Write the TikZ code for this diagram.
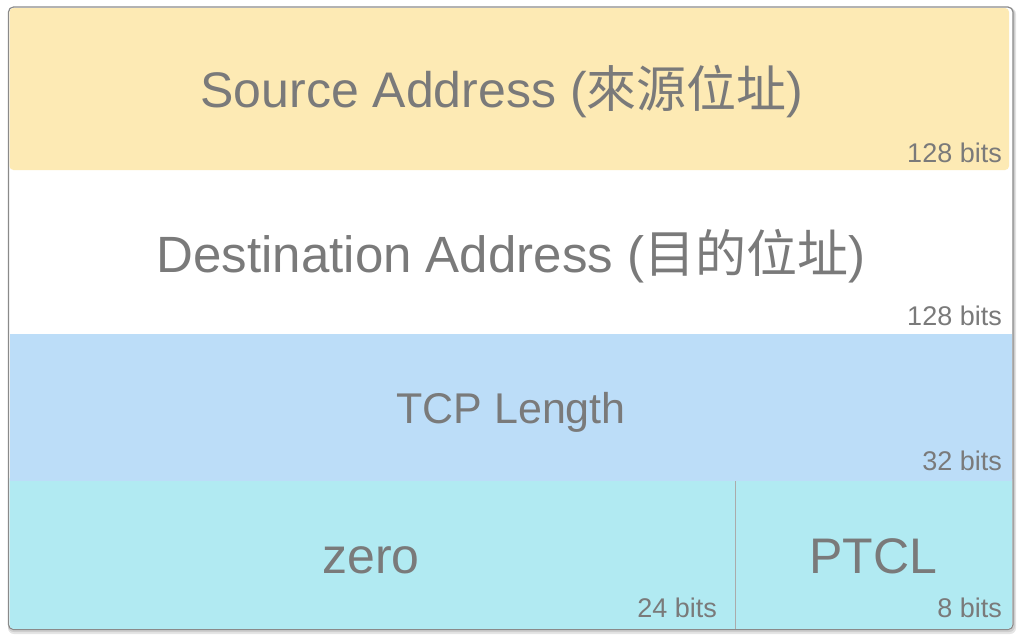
\documentclass[tikz,border=0pt]{standalone}
\usepackage{fontspec}
\setmainfont{Liberation Sans}
\newfontfamily\cjk{Noto Sans CJK TC}
\definecolor{txt}{HTML}{7A7A7A}
\definecolor{cyel}{HTML}{FDEAB4}
\definecolor{cblue}{HTML}{BCDDF8}
\definecolor{ccyan}{HTML}{B1EAF2}
\definecolor{bord}{HTML}{8A8A8A}
\tikzset{
  big/.style={font=\fontsize{50}{56}\selectfont, text=txt, anchor=base, inner sep=0pt},
  mid/.style={font=\fontsize{43}{48}\selectfont, text=txt, anchor=base, inner sep=0pt},
  bits/.style={font=\fontsize{27}{32}\selectfont, text=txt, anchor=base east, inner sep=0pt},
}
\begin{document}
\begin{tikzpicture}[x=1pt,y=-1pt]
\useasboundingbox (0,0) rectangle (1024,641);
% outer frame with shadow
\fill[black, opacity=0.10, rounded corners=6pt] (8,8) rectangle (1016,634);
\fill[black, opacity=0.10, rounded corners=6pt] (8,8) rectangle (1015,632);
\draw[bord, line width=1.2pt, fill=white, rounded corners=5pt] (8.5,7) rectangle (1013,629.5);
% rows
\fill[cyel, rounded corners=4pt] (9.5,8) rectangle (1009,170);
\fill[ccyan, rounded corners=4pt] (9.5,475) rectangle (1012,628.8);
\fill[cblue] (9.5,334) rectangle (1012,481);
\draw[black!33, line width=1pt] (735,481) -- (735,628.8);
% texts
\node[big] (src) at (502,107) {Source Address ({\cjk 來源位址})};
\node[big, font=\fontsize{51}{56}\selectfont] (dst) at (511,272) {Destination Address ({\cjk 目的位址})};
\node[mid] (tcp) at (511,423) {TCP Length};
\node[big] (zero) at (371,573) {zero};
\node[big] (ptcl) at (873,573) {PTCL};
\node[bits] (b1) at (1002,162) {128 bits};
\node[bits] (b2) at (1002,325) {128 bits};
\node[bits] (b3) at (1002,470) {32 bits};
\node[bits] (b4) at (717,617) {24 bits};
\node[bits] (b5) at (1002,617) {8 bits};
\end{tikzpicture}
\end{document}
